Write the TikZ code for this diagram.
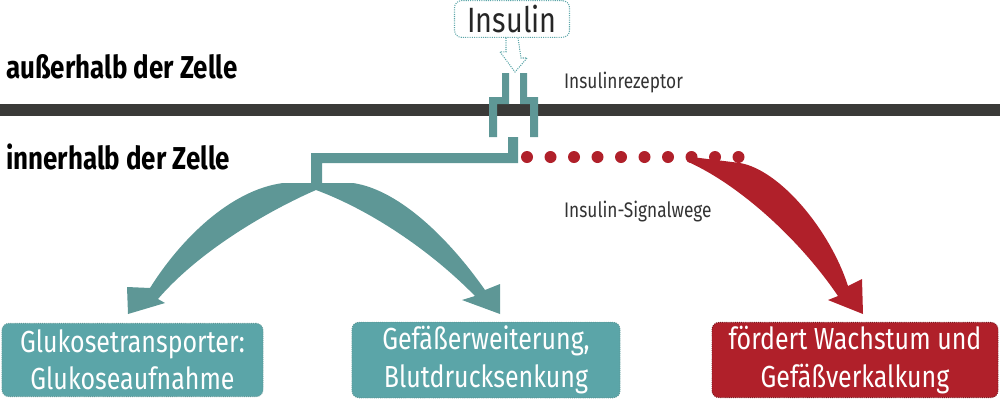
\documentclass[tikz,border=0pt]{standalone}
\usepackage{fontspec}
\setmainfont{Fira Sans}[FakeStretch=0.82]
\usetikzlibrary{positioning,calc}
\definecolor{teal}{HTML}{5E9796}
\definecolor{boxteal}{HTML}{5BA5A8}
\definecolor{redd}{HTML}{B0202A}
\definecolor{memb}{HTML}{3A3A38}
\tikzset{
  box/.style={rounded corners=6pt,draw,densely dotted,line width=0.8pt,minimum width=#1,minimum height=2.2cm,align=center,text=white,font=\fontsize{26}{32}\selectfont},
  side/.style={font=\fontsize{27}{30}\selectfont\bfseries,anchor=west},
  small/.style={font=\fontsize{18}{20}\selectfont,text=black!80,anchor=west},
  dot/.style={circle,fill=redd,inner sep=0pt,minimum size=0.36cm}
}
\begin{document}
\begin{tikzpicture}[x=0.03cm,y=-0.03cm]
\useasboundingbox (0,0) rectangle (1000,407);
% membrane
\fill[memb] (0,104) rectangle (1000,116);
\node[side] (out) at (2,67) {außerhalb der Zelle};
\node[side] (in) at (2,157) {innerhalb der Zelle};
% insulin
\node[draw=boxteal,densely dotted,line width=0.9pt,rounded corners=6pt,minimum width=3.45cm,minimum height=1.1cm,font=\fontsize{30}{32}\selectfont,text=black!85] (ins) at (512,19) {Insulin};
\coordinate (bind) at (515,72);
\draw[boxteal,densely dotted,line width=0.9pt] ($(ins.south)+(-6,0)$) -- ++(0,14) -- ++(-6,0) -- (bind) -- ++(12,-14) -- ++(-6,0) -- ($(ins.south)+(6,0)$);
% receptor
\fill[teal] (502,73) rectangle (509,104) (489,97) rectangle (509,104) (489,97) rectangle (497,137);
\fill[teal] (520,73) rectangle (527,104) (520,97) rectangle (538,104) (530,97) rectangle (538,137);
\fill[teal] (508,137) rectangle (518,163) (311,153) rectangle (518,163) (311,153) rectangle (322,184);
\node[small] (rez) at (560,83) {Insulinrezeptor};
\node[small] (weg) at (560,212) {Insulin-Signalwege};
% dots
\foreach \i in {0,...,9}
  \node[dot] (d\i) at (527+23.5*\i,157) {};
% boxes
\node[box=7.83cm,fill=boxteal,draw=teal] (glu) at (132.5,360) {Glukosetransporter:\\Glukoseaufnahme};
\node[box=8.04cm,fill=boxteal,draw=teal] (gef) at (486,360) {Gefäßerweiterung,\\Blutdrucksenkung};
\node[box=8.58cm,fill=redd,draw=redd!70!black] (wac) at (855,360) {fördert Wachstum und\\Gefäßverkalkung};
% tapered arrows
\coordinate (split) at (316,190);
\fill[teal] (318,183) -- (283,183) .. controls (230,190) and (180,240) .. (150,288)
  -- (127,287) -- (128,314) -- (165,303) -- (158,299)
  .. controls (200,250) and (270,210) .. (split) -- cycle;
\fill[teal] (316,183) -- (353,183) .. controls (400,190) and (450,240) .. (485,290)
  -- (500,284) -- (500,314) -- (462,300) -- (475,296)
  .. controls (430,250) and (370,210) .. (split) -- cycle;
\fill[redd] (d7.center) -- (740,163) .. controls (780,170) and (830,230) .. (848,286)
  -- (862,279) -- (863,314) -- (828,300) -- (838,296)
  .. controls (800,240) and (740,185) .. (d7.south west) -- cycle;
\end{tikzpicture}
\end{document}
